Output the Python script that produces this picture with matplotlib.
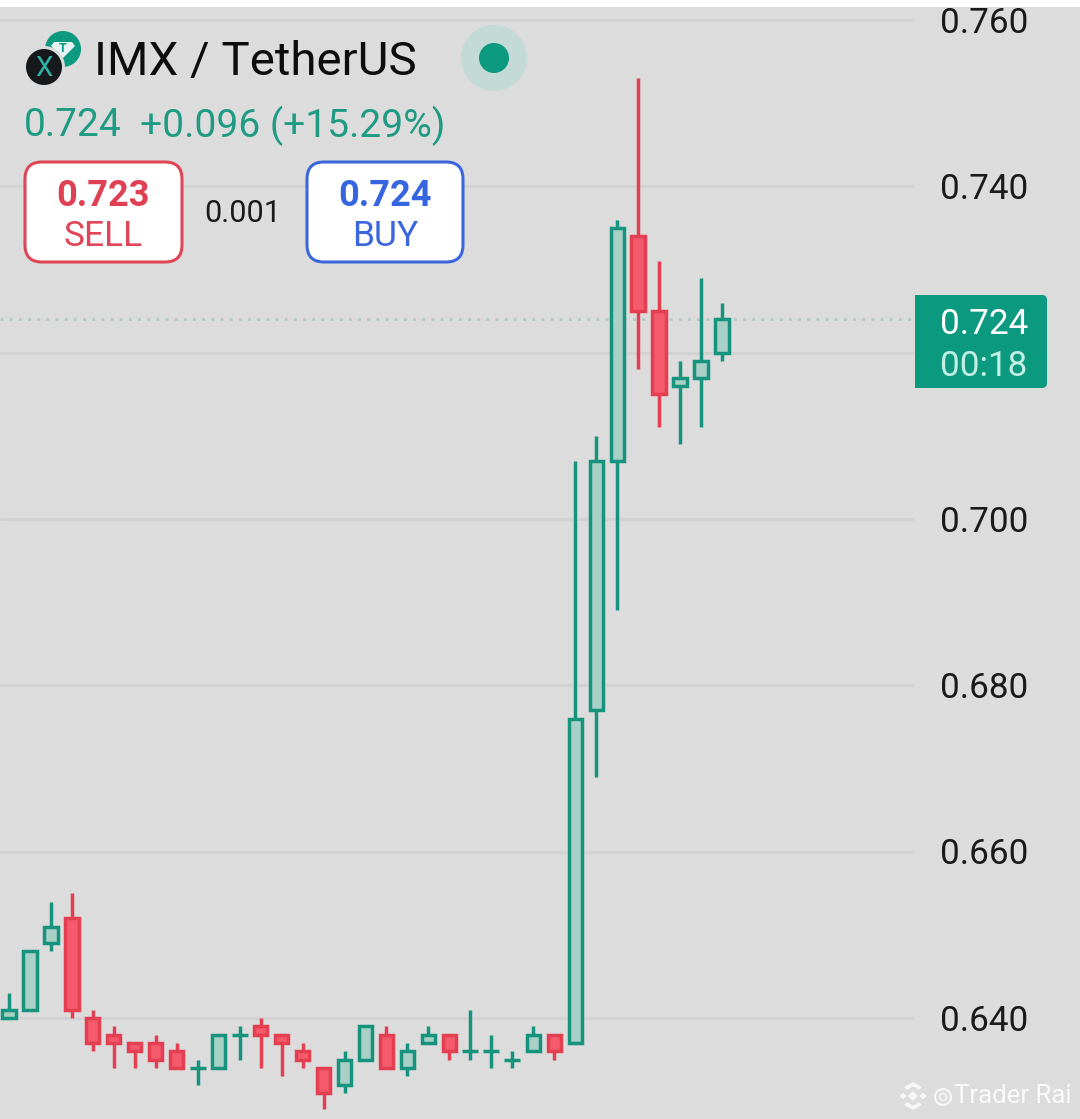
import matplotlib
matplotlib.use('Agg')
import matplotlib.pyplot as plt
from matplotlib.patches import Circle, FancyBboxPatch, Rectangle, Polygon

plt.rcParams['font.family'] = ['Roboto', 'DejaVu Sans']

opens  = [.640,.641,.649,.652,.640,.638,.637,.637,.636,.634,.634,.638,.639,.638,.636,.634,.632,.635,.638,.634,.637,.638,.636,.636,.635,.636,.638,.637,.677,.707,.734,.725,.716,.717,.720]
closes = [.641,.648,.651,.641,.637,.637,.636,.635,.634,.634,.638,.638,.638,.637,.635,.631,.635,.639,.634,.636,.638,.636,.636,.636,.635,.638,.636,.676,.707,.735,.725,.715,.717,.719,.724]
highs  = [.643,.648,.654,.655,.641,.639,.637,.638,.637,.635,.638,.639,.640,.638,.637,.634,.636,.639,.639,.637,.639,.638,.641,.638,.636,.639,.638,.707,.710,.736,.753,.731,.719,.729,.726]
lows   = [.640,.641,.648,.640,.636,.634,.634,.634,.634,.632,.634,.635,.634,.633,.634,.629,.631,.635,.634,.633,.637,.635,.635,.634,.634,.636,.635,.637,.669,.689,.718,.711,.709,.711,.719]
price_ticks = [.640,.660,.680,.700,.720,.740,.760]
tick_labels = ['0.640','0.660','0.680','0.700','','0.740','0.760']
last_price = .724

W, H = 1080, 1119
BG = '#dcdcdc'; GRID = '#d2d2d2'
G_EDGE = '#15937c'; G_FACE = '#a8d0c7'
R_EDGE = '#e43f50'; R_FACE = '#f45a6c'
TEAL = '#0b9a7f'

fig = plt.figure(figsize=(W/100, H/100), dpi=100, facecolor='white')
ax = fig.add_axes([0, 0, 1, 1], facecolor=BG)
PX = 20.97
ax.set_xlim(-9/PX, (W-9)/PX)
PY = 8317.0
ax.set_ylim(.640-(H-1018)/PY, .640+1018/PY)
ax.axis('off')
ax.add_patch(Rectangle((0, 0), 1, 1, transform=ax.transAxes, fc=BG, ec='none', zorder=0))
ax.add_patch(Rectangle((0, 1-7/H), 1, 7/H, transform=ax.transAxes, fc='white', ec='none', zorder=0.5))

gx = 913/W
for p in price_ticks:
    ax.plot([0, gx], [p, p], transform=ax.get_yaxis_transform(), color=GRID, lw=2.2, zorder=1, solid_capstyle='butt')
ax.plot([0, 915/W], [last_price]*2, transform=ax.get_yaxis_transform(), color='#b4cdc4', lw=2.2,
        dashes=(1, 2), zorder=1)

for i, (o, c, h, l) in enumerate(zip(opens, closes, highs, lows)):
    up = c >= o
    e, f = (G_EDGE, G_FACE) if up else (R_EDGE, R_FACE)
    ax.vlines(i, l, h, color=e, lw=2.5, zorder=2)
    lo, hi = min(o, c), max(o, c)
    if hi == lo:
        ax.hlines(lo, i-.38, i+.38, color=e, lw=2.5, zorder=3)
    else:
        ax.bar(i, hi-lo, bottom=lo, width=.63, facecolor=f, edgecolor=e, linewidth=2.5, zorder=3)

for p, s in zip(price_ticks, tick_labels):
    if s:
        ax.annotate(s, xy=(940/W, p), xycoords=ax.get_yaxis_transform(), xytext=(0, -2.2),
                    textcoords='offset points', fontsize=25.3, color='#1a1a1a', va='center', ha='left', zorder=4)

# overlay in image pixel coordinates
ov = fig.add_axes([0, 0, 1, 1], facecolor='none')
ov.set_xlim(0, W); ov.set_ylim(H, 0); ov.axis('off')

# instrument icons
ov.add_patch(Circle((63, 49), 18, fc=TEAL, ec='none'))
ov.add_patch(Polygon([(54, 42), (72, 42), (75, 46), (63, 58), (51, 46)], fc='#e6f3f0', ec='none'))
ov.text(63, 49, 'T', fontsize=9, fontweight='bold', color=TEAL, ha='center', va='center')
ov.add_patch(Circle((44, 67), 21, fc=BG, ec='none'))
ov.add_patch(Circle((44, 67), 18, fc='#16191b', ec='none'))
ov.text(44, 69, 'X', fontsize=20, color='#2fb5a8', ha='center', va='center')

ov.text(94, 62, 'IMX / TetherUS', fontsize=34.2, color='#0d0d0d', ha='left', va='center')
ov.add_patch(Circle((494, 58), 33, fc='#c4dad6', ec='none'))
ov.add_patch(Circle((494, 58), 15, fc=TEAL, ec='none'))
ov.text(24, 126, '0.724', fontsize=28, color='#1f9b83', ha='left', va='center')
ov.text(140, 126, '+0.096 (+15.29%)', fontsize=28.1, color='#1f9b83', ha='left', va='center')

def box(x0, x1, y0, y1, ec):
    ov.add_patch(FancyBboxPatch((x0+17, y0+17), x1-x0-34, y1-y0-34,
                                boxstyle='round,pad=17,rounding_size=17', fc='white', ec=ec, lw=2.2))
box(25, 182, 162, 262, '#df4657')
box(307, 463, 162, 262, '#3c66dc')
ov.text(103, 196, '0.723', fontsize=26, fontweight='bold', color='#df4053', ha='center', va='center')
ov.text(103, 237, 'SELL', fontsize=25.5, color='#df4657', ha='center', va='center')
ov.text(385, 196, '0.724', fontsize=26, fontweight='bold', color='#3565e0', ha='center', va='center')
ov.text(385, 237, 'BUY', fontsize=25.5, color='#3c66dc', ha='center', va='center')
ov.text(243, 214, '0.001', fontsize=22, color='#1a1a1a', ha='center', va='center')

# last price tag
ov.add_patch(FancyBboxPatch((925, 300), 117, 83, boxstyle='round,pad=5,rounding_size=5', fc=TEAL, ec='none'))
ov.add_patch(Rectangle((915, 295), 20, 93, fc=TEAL, ec='none'))
ov.text(984, 324, '0.724', fontsize=25.3, color='white', ha='center', va='center')
ov.text(984, 366, '00:18', fontsize=25.3, color='#c2efe2', ha='center', va='center')

# watermark
WM = '#f6f6f6'
cx, cy = 913, 1096
ov.add_patch(Polygon([(cx-5, cy), (cx, cy-5), (cx+5, cy), (cx, cy+5)], fc=WM, ec='none'))
for dx in (-10, 10):
    ov.add_patch(Polygon([(cx+dx-3.5, cy), (cx+dx, cy-3.5), (cx+dx+3.5, cy), (cx+dx, cy+3.5)], fc=WM, ec='none'))
for s in (-1, 1):
    ov.add_patch(Polygon([(cx-9, cy+s*9), (cx, cy+s*14), (cx+9, cy+s*9), (cx+6, cy+s*6), (cx, cy+s*9.5), (cx-6, cy+s*6)], fc=WM, ec='none'))
ov.add_patch(Circle((943, 1097), 8, fc='none', ec=WM, lw=1.6))
ov.add_patch(Circle((943, 1097), 3.5, fc='none', ec=WM, lw=1.2))
ov.text(1072, 1096, 'Trader Rai', fontsize=18.5, color='#fafafa', ha='right', va='center')

fig.savefig('out.png', dpi=100, facecolor='white')
